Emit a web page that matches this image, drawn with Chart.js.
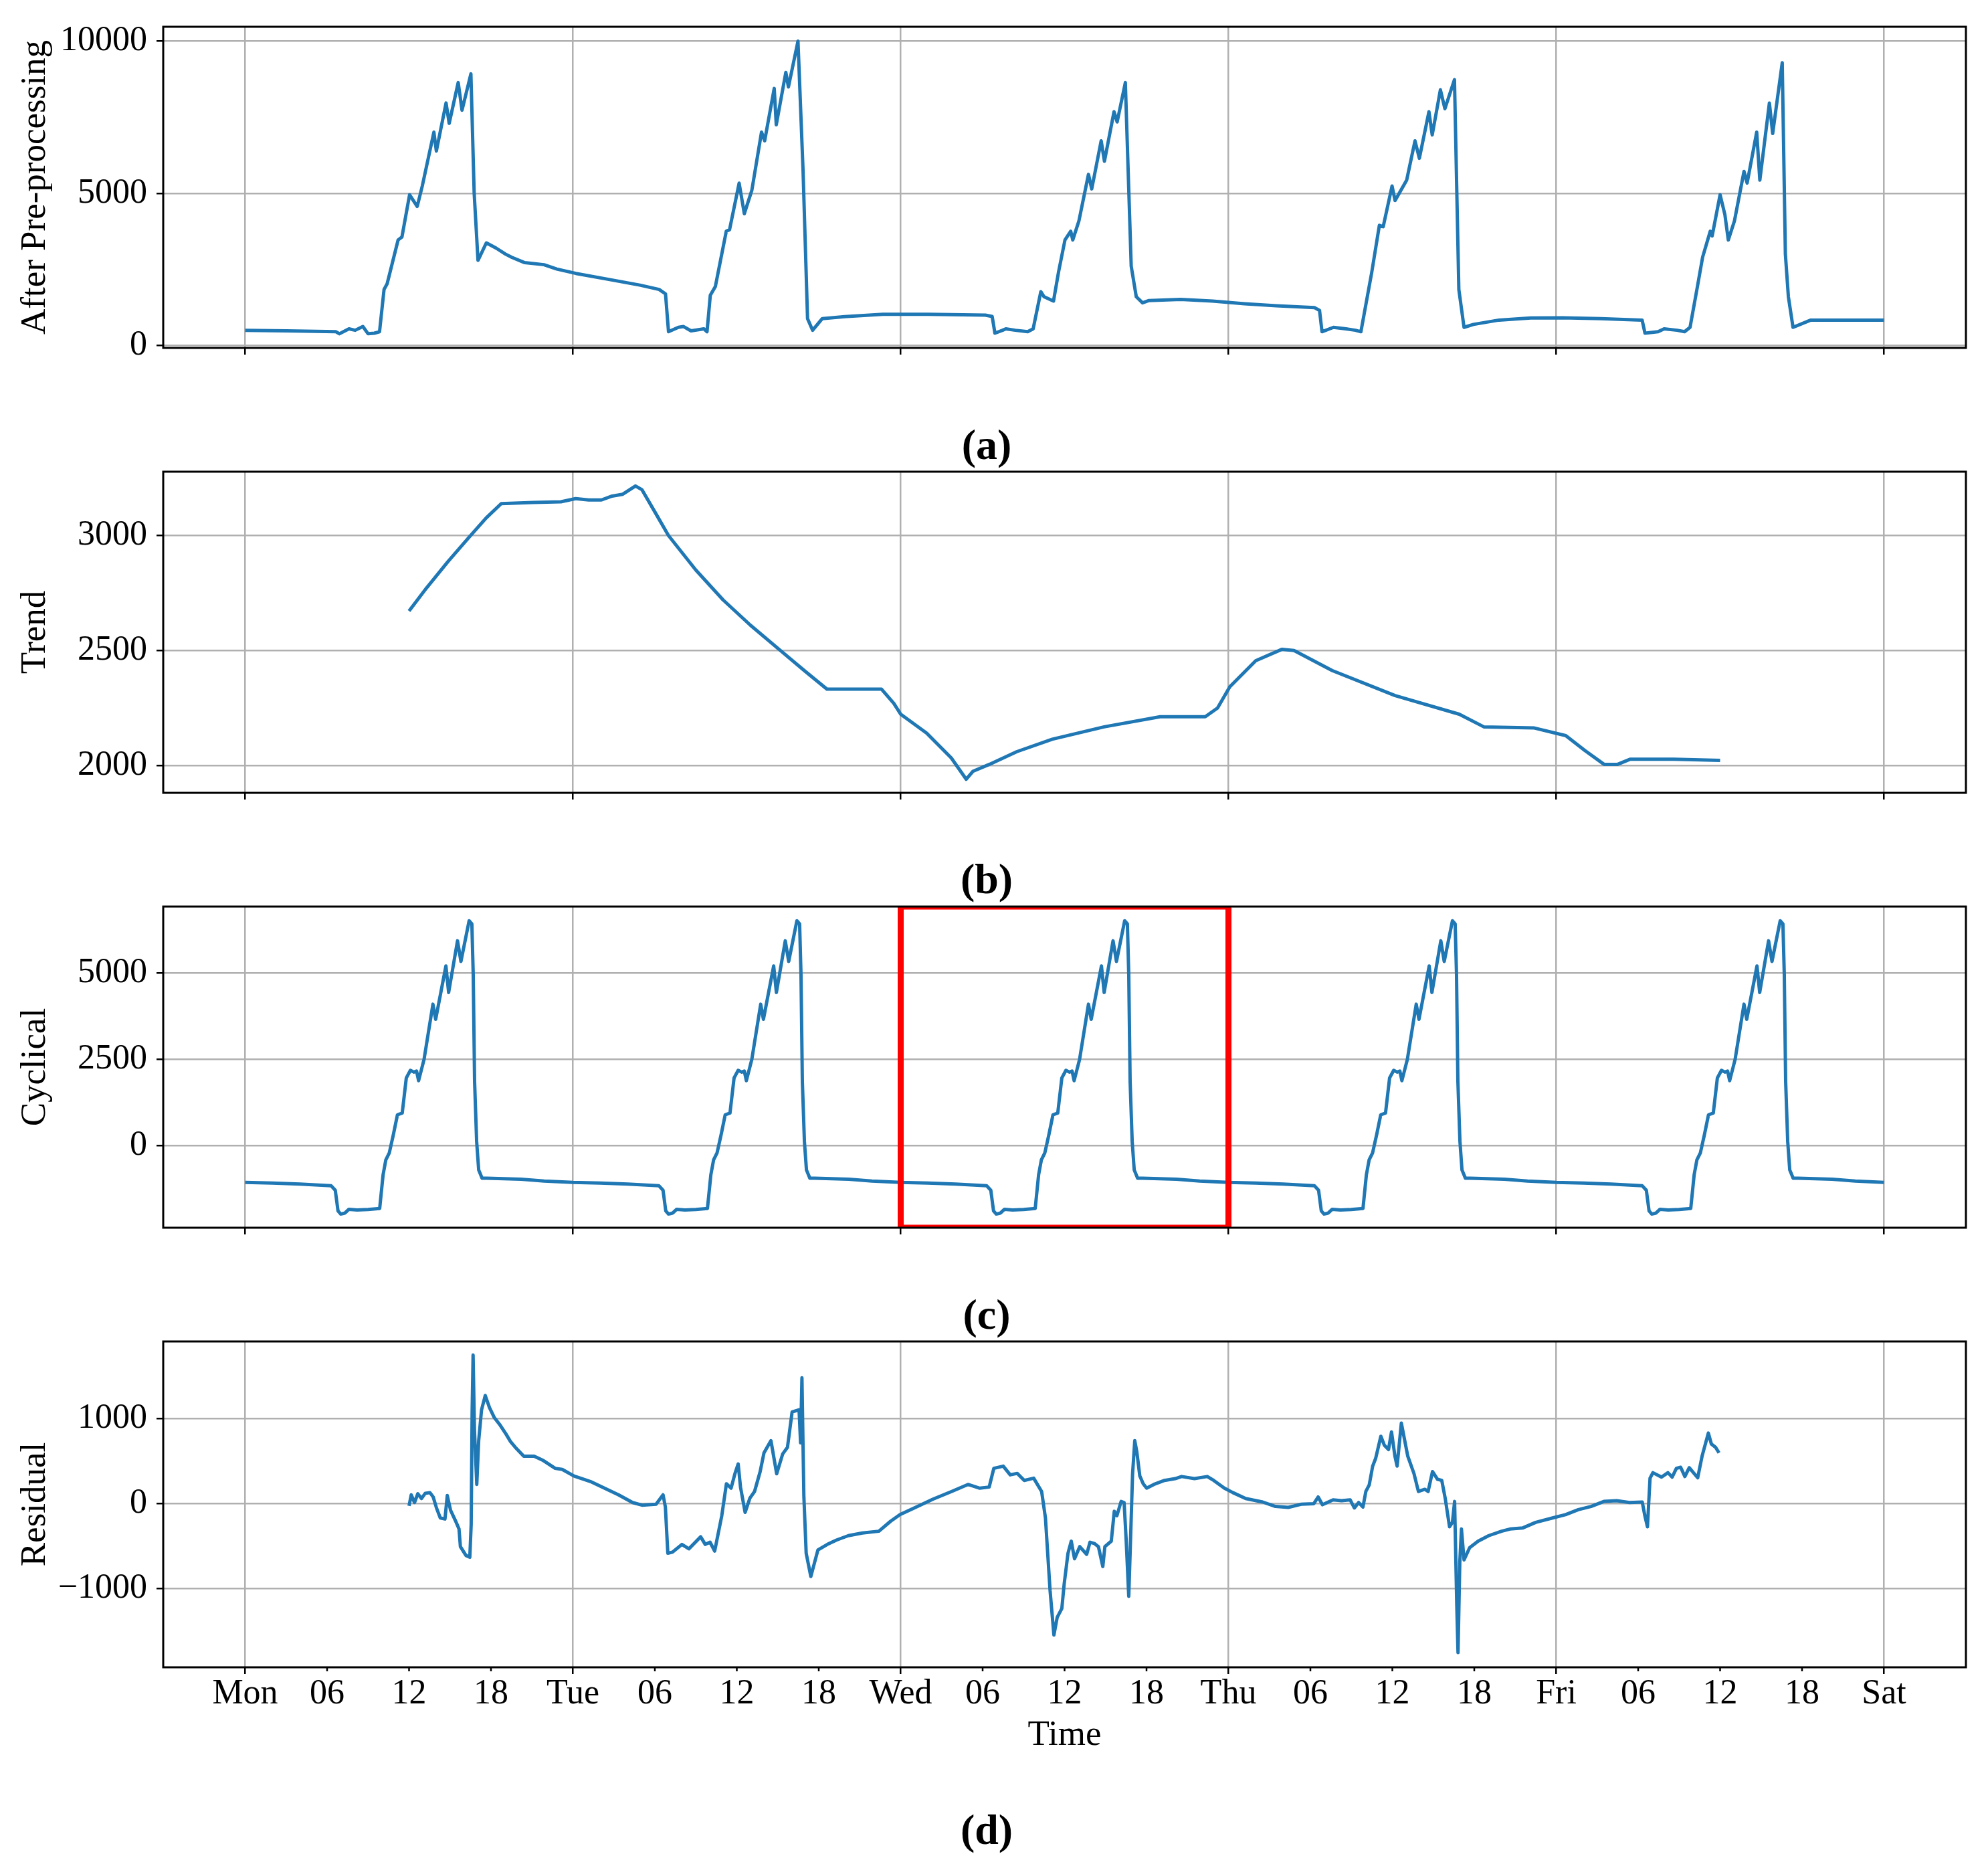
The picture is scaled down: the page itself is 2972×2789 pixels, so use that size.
<!DOCTYPE html>
<html><head><meta charset="utf-8">
<script src="https://cdn.jsdelivr.net/npm/chart.js@4.4.0/dist/chart.umd.min.js"></script>
<style>
html,body{margin:0;padding:0;background:#fff;}
body{width:2972px;height:2789px;position:relative;overflow:hidden;}
canvas{position:absolute;left:0;}
.lab{position:absolute;left:1375px;width:200px;text-align:center;font-family:"Liberation Serif";font-weight:bold;font-size:64px;line-height:1;color:#000;}
</style></head><body>
<canvas id="ca" width="2972" height="560" style="top:0px"></canvas>
<canvas id="cb" width="2972" height="560" style="top:665px"></canvas>
<canvas id="cc" width="2972" height="560" style="top:1315px"></canvas>
<canvas id="cd" width="2972" height="675" style="top:1965px"></canvas>
<div class="lab" style="top:633px">(a)</div>
<div class="lab" style="top:1282px">(b)</div>
<div class="lab" style="top:1933px">(c)</div>
<div class="lab" style="top:2703px">(d)</div>
<script>
// ---------- data (hours since Monday 00:00) ----------
const xTickHours = [0,6,12,18,24,30,36,42,48,54,60,66,72,78,84,90,96,102,108,114,120];
const xTickLabels = ['Mon','06','12','18','Tue','06','12','18','Wed','06','12','18','Thu','06','12','18','Fri','06','12','18','Sat'];

const aTicks = [0,5000,10000];
const trendTicks = [2000,2500,3000];
const cycTicks = [0,2500,5000];
const resTicks = [-1000,0,1000];

const highlightHours = [48,72];

const aTimes = [0,3,6.65,6.9,7.6,8.06,8.62,9.0,9.46,9.84,10.17,10.4,11.2,11.48,12.04,12.6,12.97,13.82,14.0,14.71,14.94,15.6,15.88,16.53,16.77,17.05,17.66,18.37,19.07,19.54,20.47,21.88,22.82,24.22,26.56,28.9,30.31,30.78,31.0,31.72,32.1,32.65,33.59,33.82,34.06,34.43,35.23,35.47,36.17,36.55,37.1,37.81,38.04,38.74,38.89,39.59,39.78,40.48,40.85,41.18,41.55,42.26,43.9,46.7,50.0,54.2,54.7,54.9,55.46,55.7,56.4,57.3,57.7,58.26,58.5,59.19,59.56,60.03,60.45,60.6,61.05,61.75,61.99,62.68,62.92,63.62,63.85,64.45,64.88,65.25,65.71,66.18,68.5,70.84,73.17,75.5,78.29,78.67,78.85,79.69,80.6,81.3,81.7,82.49,83.05,83.33,83.98,84.2,85.05,85.66,85.98,86.68,86.92,87.52,87.85,88.55,88.87,89.25,89.94,91.81,94.14,96.47,99.26,102.29,102.5,103.46,103.9,104.86,105.4,105.8,106.35,106.72,107.28,107.42,108.0,108.35,108.6,109.05,109.75,109.98,110.68,110.91,111.61,111.85,112.55,112.78,113.0,113.34,114.64,117.44,120];
const aValues = [498,480,450,383,546,498,622,383,402,450,1839,2030,3467,3563,4952,4569,5240,7011,6389,7969,7299,8640,7730,8927,5000,2797,3371,3200,3000,2893,2720,2653,2510,2366,2174,1983,1839,1695,450,594,620,479,546,450,1648,1935,3755,3803,5335,4330,5096,7011,6724,8448,7250,8975,8496,10000,5766,881,498,881,948,1025,1025,996,950,402,498,546,498,450,546,1766,1600,1458,2414,3467,3755,3467,4090,5623,5144,6724,6054,7682,7346,8640,2605,1600,1400,1475,1515,1458,1370,1303,1245,1150,450,594,546,498,450,2395,3946,3900,5240,4760,5431,6724,6150,7682,6920,8400,7780,8735,1839,594,690,833,900,910,880,833,402,450,546,498,450,594,1960,2900,3755,3600,4952,4300,3467,4090,5720,5336,7011,5431,7969,6965,9291,3000,1600,594,833,833,833];

const trendTimes = [12.0,13.28,14.84,16.4,17.65,18.75,21.09,23.12,24.2,25.15,26.09,26.87,27.65,28.58,29.05,30.0,31.0,33.0,35.0,37.0,39.2,41.0,42.6,46.6,47.5,48.0,49.9,51.7,52.8,53.3,54.5,56.5,59.1,62.9,67.0,70.3,71.2,72.1,74.0,75.9,76.8,79.6,84.2,88.9,90.7,94.4,96.7,98.1,99.5,100.5,101.4,104.6,108.0];
const trendValues = [2672,2772,2886,2993,3077,3139,3144,3147,3161,3155,3155,3172,3180,3216,3200,3103,3000,2850,2720,2610,2500,2410,2332,2332,2270,2223,2141,2033,1940,1975,2005,2060,2114,2168,2212,2212,2250,2342,2456,2505,2500,2413,2304,2223,2168,2163,2130,2065,2005,2005,2027,2027,2022];

const cycTimes = [
 0,2,4,6.3,6.6,6.8,7.0,7.3,7.6,8.2,9.0,9.85,10.1,10.3,10.55,10.85,11.15,11.5,11.8,12.1,12.35,12.55,12.7,13.1,13.75,13.95,14.7,14.9,15.55,15.8,16.4,16.6,16.7,16.8,16.95,17.1,17.35,17.7,20.2,21.9,
 24,26,28,30.3,30.6,30.8,31.0,31.3,31.6,32.2,33.0,33.85,34.1,34.3,34.55,34.85,35.15,35.5,35.8,36.1,36.35,36.55,36.7,37.1,37.75,37.95,38.7,38.9,39.55,39.8,40.4,40.6,40.7,40.8,40.95,41.1,41.35,41.7,44.2,45.9,
 48,50,52,54.3,54.6,54.8,55.0,55.3,55.6,56.2,57.0,57.85,58.1,58.3,58.55,58.85,59.15,59.5,59.8,60.1,60.35,60.55,60.7,61.1,61.75,61.95,62.7,62.9,63.55,63.8,64.4,64.6,64.7,64.8,64.95,65.1,65.35,65.7,68.2,69.9,
 72,74,76,78.3,78.6,78.8,79.0,79.3,79.6,80.2,81.0,81.85,82.1,82.3,82.55,82.85,83.15,83.5,83.8,84.1,84.35,84.55,84.7,85.1,85.75,85.95,86.7,86.9,87.55,87.8,88.4,88.6,88.7,88.8,88.95,89.1,89.35,89.7,92.2,93.9,
 96,98,100,102.3,102.6,102.8,103.0,103.3,103.6,104.2,105.0,105.85,106.1,106.3,106.55,106.85,107.15,107.5,107.8,108.1,108.35,108.55,108.7,109.1,109.75,109.95,110.7,110.9,111.55,111.8,112.4,112.6,112.7,112.8,112.95,113.1,113.35,113.7,116.2,117.9,
 120];
const cycValues = [
 -1070,-1090,-1120,-1170,-1300,-1900,-1990,-1960,-1850,-1870,-1855,-1830,-850,-420,-220,310,890,940,1960,2180,2130,2160,1880,2500,4100,3660,5210,4440,5940,5340,6520,6430,4970,1860,120,-710,-950,-950,-980,-1030,
 -1070,-1090,-1120,-1170,-1300,-1900,-1990,-1960,-1850,-1870,-1855,-1830,-850,-420,-220,310,890,940,1960,2180,2130,2160,1880,2500,4100,3660,5210,4440,5940,5340,6520,6430,4970,1860,120,-710,-950,-950,-980,-1030,
 -1070,-1090,-1120,-1170,-1300,-1900,-1990,-1960,-1850,-1870,-1855,-1830,-850,-420,-220,310,890,940,1960,2180,2130,2160,1880,2500,4100,3660,5210,4440,5940,5340,6520,6430,4970,1860,120,-710,-950,-950,-980,-1030,
 -1070,-1090,-1120,-1170,-1300,-1900,-1990,-1960,-1850,-1870,-1855,-1830,-850,-420,-220,310,890,940,1960,2180,2130,2160,1880,2500,4100,3660,5210,4440,5940,5340,6520,6430,4970,1860,120,-710,-950,-950,-980,-1030,
 -1070,-1090,-1120,-1170,-1300,-1900,-1990,-1960,-1850,-1870,-1855,-1830,-850,-420,-220,310,890,940,1960,2180,2130,2160,1880,2500,4100,3660,5210,4440,5940,5340,6520,6430,4970,1860,120,-710,-950,-950,-980,-1030,
 -1070];

const resTimes = [12.0,12.16,12.4,12.64,12.91,13.19,13.53,13.77,14.01,14.29,14.63,14.8,15.04,15.38,15.66,15.76,16.17,16.45,16.55,16.62,16.69,16.79,16.96,17.1,17.31,17.58,17.89,18.24,18.68,19.1,19.44,19.78,20.4,21.16,21.84,22.7,23.22,24.08,25.28,26.31,27.34,28.37,29.06,30.09,30.6,30.77,30.95,31.29,31.98,32.49,33.35,33.69,34.04,34.38,34.9,35.24,35.58,35.86,36.1,36.27,36.61,36.96,37.3,37.71,37.99,38.5,38.92,39.36,39.71,40.05,40.56,40.67,40.77,40.91,41.08,41.42,41.94,42.63,43.31,44.17,45.2,46.4,47.26,47.95,48.98,50.36,51.73,52.93,53.79,54.48,54.82,55.51,56.02,56.54,57.05,57.74,58.32,58.6,58.94,59.22,59.46,59.8,59.97,60.25,60.49,60.73,61.11,61.62,61.86,62.17,62.48,62.8,62.95,63.42,63.64,63.83,64.14,64.36,64.51,64.7,64.83,64.98,65.14,65.29,65.51,65.76,66.01,66.54,67.32,68.1,68.57,69.51,70.45,70.92,71.7,72.32,73.26,74.51,75.44,76.38,77.32,78.25,78.57,78.88,79.66,80.28,80.91,81.22,81.53,81.85,82.06,82.31,82.56,82.78,83.16,83.41,83.72,83.94,84.19,84.35,84.66,85.13,85.59,85.91,86.38,86.62,86.94,87.31,87.62,87.87,88.19,88.4,88.56,88.72,88.81,88.94,89.06,89.25,89.66,90.28,91.06,92.0,92.62,93.56,94.5,95.74,96.68,97.62,98.55,99.49,100.43,101.37,102.3,102.49,102.68,102.87,103.08,103.71,104.18,104.49,104.8,105.11,105.42,105.74,106.36,106.68,107.14,107.36,107.67,107.92];
const resValues = [-29,101,10,114,57,119,127,75,-54,-171,-184,93,-80,-197,-301,-508,-612,-633,-249,1074,1743,866,223,737,1100,1268,1126,1009,918,815,724,659,555,555,503,412,399,322,257,179,101,10,-21,-10,101,-42,-586,-573,-482,-534,-392,-482,-456,-560,-145,231,179,348,464,192,-106,62,140,374,594,737,348,581,659,1074,1100,711,1476,88,-586,-859,-547,-482,-430,-379,-348,-327,-210,-132,-54,49,140,223,179,192,412,438,335,353,270,296,140,-171,-1027,-1546,-1339,-1235,-949,-586,-444,-651,-508,-599,-456,-470,-508,-742,-508,-444,-93,-145,23,10,-430,-1092,-430,348,737,607,322,231,179,223,270,291,316,291,316,270,179,127,57,16,-36,-47,-10,-3,75,-16,42,31,42,-54,10,-42,140,218,438,529,789,685,633,840,555,438,944,555,348,140,166,140,374,283,270,62,-275,-223,23,-1209,-1754,-690,-301,-664,-521,-444,-379,-327,-301,-288,-223,-171,-132,-73,-36,23,31,10,16,-145,-275,296,361,309,361,309,412,425,316,420,301,555,827,698,659,594];

// ---------- drawing ----------
const FONT = 'Liberation Serif';
const GRID = '#b0b0b0';
const LINE = '#1f77b4';

const framePlugin = {
  id: 'frame',
  afterDatasetsDraw(chart) {
    const {ctx, chartArea: a} = chart;
    ctx.save();
    ctx.strokeStyle = '#000';
    ctx.lineWidth = 3;
    ctx.strokeRect(a.left, a.top, a.right - a.left, a.bottom - a.top);
    ctx.restore();
  }
};

const highlightPlugin = {
  id: 'highlight',
  afterDatasetsDraw(chart) {
    const {ctx, chartArea: a, scales: {x}} = chart;
    const x0 = x.getPixelForValue(highlightHours[0]);
    const x1 = x.getPixelForValue(highlightHours[1]);
    ctx.save();
    ctx.beginPath();
    ctx.rect(a.left, a.top, a.right - a.left, a.bottom - a.top);
    ctx.clip();
    ctx.strokeStyle = '#ff0000';
    ctx.lineWidth = 9;
    ctx.strokeRect(x0, a.top, x1 - x0, a.bottom - a.top);
    ctx.restore();
  }
};

const minorTickPlugin = {
  id: 'minorTicks',
  afterDatasetsDraw(chart) {
    const {ctx, chartArea: a, scales: {x}} = chart;
    ctx.save();
    ctx.strokeStyle = '#000';
    ctx.lineWidth = 2.5;
    xTickHours.forEach(h => {
      if (h % 24 !== 0) {
        const px = x.getPixelForValue(h);
        ctx.beginPath();
        ctx.moveTo(px, a.bottom);
        ctx.lineTo(px, a.bottom + 6);
        ctx.stroke();
      }
    });
    ctx.restore();
  }
};

function isDay(c) { return c.tick && c.tick.value % 24 === 0; }

function makeChart(id, times, values, yMin, yMax, yTicks, yTitle, isBottom, plugins, xAxisHeight) {
  const pts = times.map((t, i) => ({x: t, y: values[i]}));
  const xTicks = isBottom ? xTickHours : xTickHours.filter(h => h % 24 === 0);
  return new Chart(document.getElementById(id), {
    type: 'line',
    data: {datasets: [{data: pts, borderColor: LINE, borderWidth: 5, pointRadius: 0, tension: 0, fill: false, borderJoinStyle: 'round'}]},
    options: {
      responsive: false, animation: false, devicePixelRatio: 1,
      layout: {padding: {top: 35, right: 33, left: 0, bottom: 0}},
      plugins: {legend: {display: false}, tooltip: {enabled: false}},
      scales: {
        x: {
          type: 'linear', min: -6, max: 126,
          afterBuildTicks(s) { s.ticks = xTicks.map(v => ({value: v})); },
          afterFit(s) { s.height = xAxisHeight; },
          grid: {color: c => isDay(c) ? GRID : 'rgba(0,0,0,0)', lineWidth: 2.5, drawTicks: true, tickLength: 10,
                 tickColor: c => isDay(c) ? '#000' : 'rgba(0,0,0,0)', tickWidth: 2.5},
          border: {display: false},
          ticks: {display: isBottom, autoSkip: false, maxRotation: 0, minRotation: 0, padding: 4, color: '#000',
                  font: {family: FONT, size: 52, lineHeight: 1},
                  callback: v => xTickLabels[xTickHours.indexOf(v)]},
          title: {display: isBottom, text: 'Time', color: '#000', font: {family: FONT, size: 53, lineHeight: 1},
                  padding: {top: 0, bottom: 19}}
        },
        y: {
          min: yMin, max: yMax,
          afterBuildTicks(s) { s.ticks = yTicks.map(v => ({value: v})); },
          afterFit(s) { s.width = 244; },
          grid: {color: GRID, lineWidth: 2.5, tickLength: 10, tickColor: '#000', tickWidth: 2.5},
          border: {display: false},
          ticks: {padding: 14, color: '#000', font: {family: FONT, size: 52, lineHeight: 1},
                  callback: v => v < 0 ? '\u2212' + Math.abs(v) : String(v)},
          title: {display: true, text: yTitle, color: '#000', font: {family: FONT, size: 53, lineHeight: 1},
                  padding: {top: 27, bottom: 0}}
        }
      }
    },
    plugins: plugins
  });
}

makeChart('ca', aTimes, aValues, -82, 10474, aTicks, 'After Pre-processing', false, [framePlugin], 33);
makeChart('cb', trendTimes, trendValues, 1881, 3278, trendTicks, 'Trend', false, [framePlugin], 33);
makeChart('cc', cycTimes, cycValues, -2386, 6932, cycTicks, 'Cyclical', false, [highlightPlugin, framePlugin], 33);
makeChart('cd', resTimes, resValues, -1926, 1903, resTicks, 'Residual', true, [minorTickPlugin, framePlugin], 148);
</script>
</body></html>
